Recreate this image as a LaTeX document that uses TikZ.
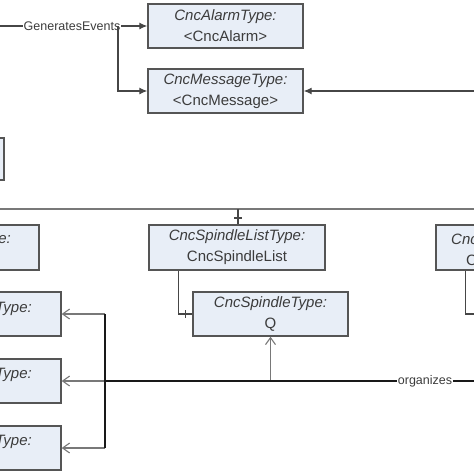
\documentclass[tikz,border=0pt]{standalone}
\usepackage{fontspec}
\setmainfont{Liberation Sans}
\usetikzlibrary{arrows.meta,calc}
\definecolor{boxfill}{RGB}{232,238,247}
\definecolor{boxline}{RGB}{85,85,85}
\definecolor{txt}{RGB}{60,60,60}
\definecolor{conncol}{RGB}{70,70,70}
\definecolor{buscol}{RGB}{120,120,120}
\definecolor{opencol}{RGB}{120,120,120}
\begin{document}
\begin{tikzpicture}[x=1pt,y=-1pt,
  box/.style={draw=boxline, line width=1.4pt, fill=boxfill, inner sep=0pt,
    minimum width=155pt, minimum height=44pt, align=center, text=txt,
    font=\fontsize{15}{21}\selectfont},
  frag/.style={inner sep=0pt, text=txt, font=\fontsize{15}{21}\selectfont},
  lbl/.style={fill=white, inner sep=1pt, text=txt, font=\fontsize{12.5}{14}\selectfont},
  conn/.style={draw=conncol, line width=1.1pt},
  fillarrow/.style={conn, -{Latex[length=8pt,width=7pt]}},
  bus/.style={draw=buscol, line width=2.2pt},
  blk/.style={draw=black!90, line width=1.8pt},
  openarrow/.style={draw=opencol, line width=1.1pt, -{Straight Barb[length=7pt,width=10pt]}}
]
\useasboundingbox (0,0) rectangle (474,474);
\clip (0,0) rectangle (474,474);
\fill[white] (0,0) rectangle (474,474);

% boxes
\node[box] (alarm) at (225.5,26) {\textit{CncAlarmType:}\\<CncAlarm>};
\node[box] (msg) at (225.5,91) {\textit{CncMessageType:}\\<CncMessage>};
\node[box, minimum height=42pt] (tl) at (-73.5,159) {};
\node[box, minimum height=45pt] (l1) at (-38.5,247.5) {};
\node[box, minimum width=176pt, minimum height=45pt] (splist) at (237,247.5) {\textit{CncSpindleListType:}\\CncSpindleList};
\node[box] (sp) at (270.5,314) {\textit{CncSpindleType:}\\Q};
\node[box, minimum height=45pt] (rt) at (513.5,247.5) {};
\node[box] (r2) at (-16.5,314) {};
\node[box] (r3) at (-16.5,381) {};
\node[box] (r4) at (-16.5,448) {};

% visible text fragments of cut boxes
\node[frag, anchor=base east] (l1t) at (11,243) {\textit{e:}};
\node[frag, anchor=base east] (r2t) at (32,312) {\textit{Type:}};
\node[frag, anchor=base east] (r3t) at (32,378) {\textit{Type:}};
\node[frag, anchor=base east] (r4t) at (32,445) {\textit{Type:}};
\node[frag, anchor=base west] (rt1) at (451,244) {\textit{Cnc}};
\node[frag, anchor=base west] (rt2) at (466,265) {C};

% GeneratesEvents
\coordinate (gL) at (0,26);
\coordinate (gB) at (118,26);
\draw[fillarrow] (gL) -- (alarm.west);
\node[lbl] (ge) at (72,26) {GeneratesEvents};
\draw[fillarrow] (gB) |- (msg.west);
\coordinate (mR) at (474,91);
\draw[fillarrow] (mR) -- (msg.east);

% component bus
\coordinate (hL) at (0,209);
\coordinate (hR) at (474,209);
\draw[bus] (hL) -- (hR);
\coordinate (h1) at (238,209);
\draw[conn] (h1) -- (h1 |- splist.north);
\draw[conn] ($(h1)+(-4,9)$) -- ($(h1)+(4,9)$);

% spindle list -> spindle
\coordinate (s1) at ($(splist.south west)+(30,0)$);
\draw[conn] (s1) |- (sp.west);
\draw[conn] ($(sp.west)+(-7,-4)$) -- ($(sp.west)+(-7,4)$);

% right box
\coordinate (rb) at ($(rt.south west)+(30,0)$);
\coordinate (rE) at (474,314);
\draw[conn] (rb) |- (rE);

% organizes
\coordinate (oR) at (474,381);
\coordinate (oJ) at (105,381);
\coordinate (oT) at (105,314);
\coordinate (oB) at (105,448);
\coordinate (oS) at (sp.south |- oJ);
\draw[openarrow] (oT) -- (r2.east);
\draw[openarrow] (oJ) -- (r3.east);
\draw[openarrow] (oB) -- (r4.east);
\draw[openarrow] (oS) -- (sp.south);
\draw[blk] (oR) -- (oJ);
\draw[blk] (oT) -- (oB);
\node[lbl] (org) at (425,381) {organizes};
\end{tikzpicture}
\end{document}
